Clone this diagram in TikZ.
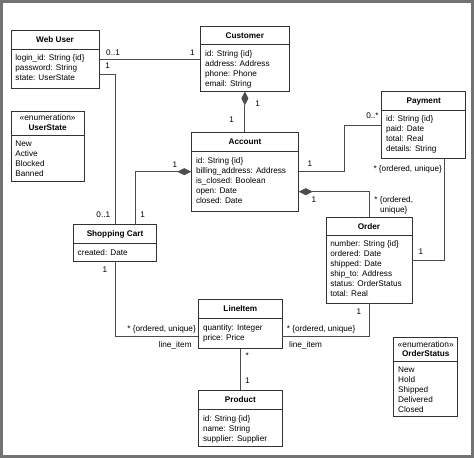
\documentclass[tikz,border=0pt]{standalone}
\usepackage{fontspec}
\setmainfont{Liberation Sans}
\usetikzlibrary{arrows.meta,fit,calc}
\tikzset{
  cls/.style={draw=black!80, line width=0.9pt, inner sep=0pt},
  divl/.style={draw=black!80, line width=0.9pt},
  ttl/.style={font=\fontsize{8.2}{10}\selectfont\bfseries, inner sep=0pt, text height=5.9pt, text depth=0pt},
  stereo/.style={font=\fontsize{8.4}{10}\selectfont, inner sep=0pt, text height=5.9pt, text depth=0pt},
  attr/.style={font=\fontsize{8.2}{10}\selectfont, align=left, inner sep=0pt, anchor=north west},
  lbl/.style={font=\fontsize{8.2}{10}\selectfont, inner sep=0pt, text height=5.9pt, text depth=0pt},
  conn/.style={draw=black!70, line width=0.8pt},
  comp/.style={conn, {Diamond[length=14pt,width=7pt]}-},
  frame/.style={draw=black!55, line width=3pt},
}
\begin{document}
\begin{tikzpicture}[x=1pt,y=-1pt]
\useasboundingbox (0,0) rectangle (474,458);
\draw[frame] (1.5,1.3) rectangle (472.5,456.5);

% Web User
\node[cls, fit={(11,30) (99,88)}] (web) {};
\draw[divl] (web.west |- 0,49) -- (web.east |- 0,49);
\node[ttl] (webT) at (web.center |- 0,39.5) {Web User};
\node[attr] (webA) at (15.2,53.3) {\strut login\_id: String \{id\}\\password: String\\state: UserState};

% Customer
\node[cls, fit={(200.7,26.7) (289,91)}] (cust) {};
\draw[divl] (cust.west |- 0,44.3) -- (cust.east |- 0,44.3);
\node[ttl] (custT) at (cust.center |- 0,35.6) {Customer};
\node[attr] (custA) at (204.9,49.3) {\strut id: String \{id\}\\address: Address\\phone: Phone\\email: String};

% Payment
\node[cls, fit={(381.7,91.7) (465.7,158.3)}] (pay) {};
\draw[divl] (pay.west |- 0,110) -- (pay.east |- 0,110);
\node[ttl] (payT) at (pay.center |- 0,100.6) {Payment};
\node[attr] (payA) at (385.8,114.3) {\strut id: String \{id\}\\paid: Date\\total: Real\\details: String};

% Account
\node[cls, fit={(191.7,132.7) (298.3,211)}] (acct) {};
\draw[divl] (acct.west |- 0,151.7) -- (acct.east |- 0,151.7);
\node[ttl] (acctT) at (acct.center |- 0,142) {Account};
\node[attr] (acctA) at (195.8,156) {\strut id: String \{id\}\\billing\_address: Address\\is\_closed: Boolean\\open: Date\\closed: Date};

% UserState
\node[cls, fit={(11,111.7) (84.3,181)}] (ust) {};
\draw[divl] (ust.west |- 0,135) -- (ust.east |- 0,135);
\node[stereo] (ustS) at (ust.center |- 0,117.7) {«enumeration»};
\node[ttl] (ustT) at (ust.center |- 0,127.3) {UserState};
\node[attr] (ustA) at (15.2,139.3) {\strut New\\Active\\Blocked\\Banned};

% Order
\node[cls, fit={(326,217.3) (412,303)}] (order) {};
\draw[divl] (order.west |- 0,235.7) -- (order.east |- 0,235.7);
\node[ttl] (orderT) at (order.center |- 0,226.3) {Order};
\node[attr] (orderA) at (330.1,239.3) {\strut number: String \{id\}\\ordered: Date\\shipped: Date\\ship\_to: Address\\status: OrderStatus\\total: Real};

% Shopping Cart
\node[cls, fit={(73.3,224.3) (156.7,261.3)}] (cart) {};
\draw[divl] (cart.west |- 0,243.3) -- (cart.east |- 0,243.3);
\node[ttl] (cartT) at (cart.center |- 0,233.8) {Shopping Cart};
\node[attr] (cartA) at (77.5,248.3) {\strut created: Date};

% LineItem
\node[cls, fit={(198.7,299.3) (282,348.7)}] (line) {};
\draw[divl] (line.west |- 0,318.3) -- (line.east |- 0,318.3);
\node[ttl] (lineT) at (line.center |- 0,308.6) {LineItem};
\node[attr] (lineA) at (202.8,323.7) {\strut quantity: Integer\\price: Price};

% Product
\node[cls, fit={(198.7,390) (282,446.7)}] (prod) {};
\draw[divl] (prod.west |- 0,409.3) -- (prod.east |- 0,409.3);
\node[ttl] (prodT) at (prod.center |- 0,399.6) {Product};
\node[attr] (prodA) at (202.8,414.3) {\strut id: String \{id\}\\name: String\\supplier: Supplier};

% OrderStatus
\node[cls, fit={(393.7,337.7) (457.7,416.7)}] (ost) {};
\draw[divl] (ost.west |- 0,361) -- (ost.east |- 0,361);
\node[stereo] (ostS) at (ost.center |- 0,344.3) {«enumeration»};
\node[ttl] (ostT) at (ost.center |- 0,354) {OrderStatus};
\node[attr] (ostA) at (398,365.3) {\strut New\\Hold\\Shipped\\Delivered\\Closed};

% connectors
\draw[conn] (web.east |- 0,59.3) -- (cust.west |- 0,59.3);
\draw[conn] (web.east |- 0,74) -| (cart.north);
\draw[comp] (acct.west |- 0,171.7) -| (cart.north -| 135.7,0);
\draw[comp] (cust.south) -- (cust.south |- acct.north);
\draw[conn] (acct.east |- 0,171.7) -- ++(46,0) |- (pay.west |- 0,125.3);
\draw[comp] (acct.east |- 0,191.7) -| (order.north);
\draw[conn] (pay.south -| 444.3,0) |- (order.east |- 0,260);
\draw[conn] (cart.south) |- (line.west |- 0,336);
\draw[conn] (order.south) |- (line.east |- 0,336);
\draw[conn] (line.south) -- (line.south |- prod.north);

% labels
\node[lbl, anchor=west] (l1) at (106,52.3) {0..1};
\node[lbl] (l2) at (192.3,52.3) {1};
\node[lbl] (l3) at (107.7,66) {1};
\node[lbl] (l4) at (103.3,214.3) {0..1};
\node[lbl] (l5) at (142.7,214.3) {1};
\node[lbl] (l6) at (175,164.3) {1};
\node[lbl] (l7) at (257.7,103.3) {1};
\node[lbl] (l8) at (231.7,119.3) {1};
\node[lbl] (l9) at (310,163.7) {1};
\node[lbl] (l10) at (372.5,116) {0..*};
\node[lbl] (l11) at (314,200) {1};
\node[lbl, align=center, text height=, text depth=] (l12) at (393.7,205.5) {* \{ordered,\\ unique\}};
\node[lbl] (l13) at (407.7,168.3) {* \{ordered, unique\}};
\node[lbl] (l14) at (421,251.7) {1};
\node[lbl] (l15) at (105,270) {1};
\node[lbl, anchor=east] (l16) at (196,328.7) {* \{ordered, unique\}};
\node[lbl] (l17) at (175.2,344.7) {line\_item};
\node[lbl] (l18) at (359,311.7) {1};
\node[lbl, anchor=west] (l19) at (286.7,328.7) {* \{ordered, unique\}};
\node[lbl, anchor=west] (l20) at (289,344.7) {line\_item};
\node[lbl] (l21) at (247.3,355.3) {*};
\node[lbl] (l22) at (247.3,381) {1};
\end{tikzpicture}
\end{document}
